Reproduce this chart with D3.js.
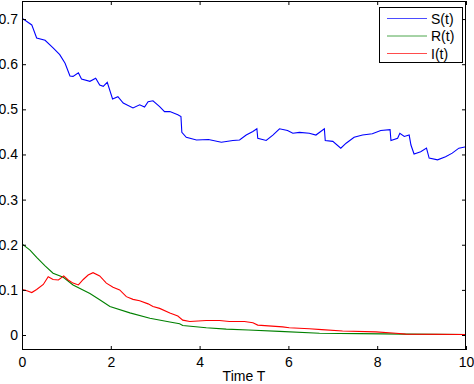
<!DOCTYPE html>
<html>
<head>
<meta charset="utf-8">
<script src="https://cdn.jsdelivr.net/npm/d3@7"></script>
<style>
  body { margin: 0; background: #fff; }
  svg { display: block; font-family: "Liberation Sans", Arial, sans-serif; }
</style>
</head>
<body>
<div id="chart"></div>
<script>
// values, as [time, value]
const sPoints = [[0,0.702],[0.22,0.687],[0.33,0.658],[0.52,0.653],[0.70,0.636],[0.85,0.621],[0.97,0.602],
  [1.08,0.574],[1.15,0.573],[1.27,0.581],[1.34,0.567],[1.53,0.562],[1.66,0.569],[1.75,0.554],[1.83,0.551],
  [1.92,0.560],[2.04,0.523],[2.16,0.528],[2.28,0.514],[2.50,0.503],[2.65,0.510],[2.76,0.505],[2.84,0.517],
  [2.95,0.519],[3.10,0.506],[3.21,0.495],[3.33,0.495],[3.51,0.488],[3.58,0.484],[3.60,0.449],[3.70,0.438],
  [3.93,0.432],[4.20,0.433],[4.49,0.427],[4.75,0.431],[4.90,0.432],[5.05,0.443],[5.20,0.451],[5.29,0.457],
  [5.31,0.436],[5.50,0.431],[5.65,0.443],[5.80,0.457],[5.98,0.453],[6.10,0.447],[6.25,0.449],[6.47,0.447],
  [6.62,0.443],[6.81,0.457],[6.83,0.431],[7.00,0.429],[7.18,0.414],[7.30,0.425],[7.48,0.438],[7.67,0.443],
  [7.89,0.446],[8.08,0.453],[8.29,0.455],[8.31,0.431],[8.46,0.436],[8.51,0.447],[8.61,0.440],[8.72,0.443],
  [8.76,0.421],[8.83,0.401],[8.98,0.406],[9.11,0.414],[9.17,0.392],[9.36,0.388],[9.54,0.395],[9.69,0.403],
  [9.84,0.414],[10,0.417]];
const rPoints = [[0,0.202],[0.18,0.188],[0.33,0.172],[0.52,0.153],[0.70,0.137],[0.93,0.128],[1.15,0.111],
  [1.53,0.092],[1.75,0.078],[1.98,0.063],[2.43,0.049],[2.88,0.037],[3.33,0.029],[3.55,0.025],[3.62,0.021],
  [4.15,0.016],[4.60,0.013],[5.10,0.011],[5.80,0.008],[6.70,0.004],[7.60,0.003],[8.64,0.002],[10,0.001]];
const iPoints = [[0,0.101],[0.11,0.098],[0.22,0.094],[0.33,0.101],[0.48,0.112],[0.59,0.129],[0.70,0.123],
  [0.82,0.122],[0.94,0.131],[1.04,0.122],[1.15,0.115],[1.27,0.111],[1.38,0.123],[1.49,0.133],[1.60,0.138],
  [1.75,0.131],[1.90,0.115],[2.05,0.106],[2.20,0.100],[2.35,0.085],[2.50,0.079],[2.65,0.076],[2.84,0.069],
  [2.95,0.063],[3.10,0.059],[3.33,0.049],[3.51,0.042],[3.62,0.033],[3.78,0.030],[4.15,0.032],[4.45,0.032],
  [4.67,0.030],[5.01,0.030],[5.20,0.027],[5.31,0.022],[5.87,0.018],[6.02,0.016],[6.47,0.014],[6.75,0.012],
  [7.22,0.009],[7.97,0.007],[8.42,0.004],[8.64,0.002],[10,0.001]];

const xTicks = [0, 2, 4, 6, 8, 10];
const yTicks = [0, 0.1, 0.2, 0.3, 0.4, 0.5, 0.6, 0.7];
const seriesNames = ["S(t)", "R(t)", "I(t)"];
const seriesColors = ["#0000ff", "#008000", "#ff0000"];

const width = 474, height = 384;
const plotL = 22, plotR = 466, plotT = 1, plotB = 350;

const svg = d3.select("#chart").append("svg")
    .attr("width", width)
    .attr("height", height);

const x = d3.scaleLinear().domain([0, 10]).range([plotL, plotR]);
const y = d3.scaleLinear().domain([-0.0332, 0.74]).range([plotB, plotT]);

const line = d3.line().x(d => x(d[0])).y(d => y(d[1]));

// data lines, clipped to the axes box
svg.append("clipPath").attr("id", "box")
  .append("rect").attr("x", plotL).attr("y", plotT).attr("width", plotR - plotL).attr("height", plotB - plotT);

const plot = svg.append("g").attr("clip-path", "url(#box)");
[sPoints, rPoints, iPoints].forEach((pts, i) => {
  plot.append("path")
    .datum(pts)
    .attr("fill", "none")
    .attr("stroke", seriesColors[i])
    .attr("stroke-width", 1.1)
    .attr("d", line);
});

// matlab style axes: ticks inward on all four sides
const tickLen = 4;
const axB = svg.append("g").attr("transform", `translate(0,${plotB})`)
  .call(d3.axisBottom(x).tickValues(xTicks).tickSize(-tickLen).tickPadding(7).tickFormat(d3.format("d")));
const axT = svg.append("g").attr("transform", `translate(0,${plotT})`)
  .call(d3.axisTop(x).tickValues(xTicks).tickSize(-tickLen).tickFormat(""));
const axL = svg.append("g").attr("transform", `translate(${plotL},0)`)
  .call(d3.axisLeft(y).tickValues(yTicks).tickSize(-tickLen).tickPadding(4).tickFormat(d => d === 0 ? "0" : d3.format(".1f")(d)));
const axR = svg.append("g").attr("transform", `translate(${plotR},0)`)
  .call(d3.axisRight(y).tickValues(yTicks).tickSize(-tickLen).tickFormat(""));

[axB, axT, axL, axR].forEach(a => {
  a.select(".domain").remove();
  a.selectAll("line").attr("stroke", "#000");
  a.selectAll("text").attr("fill", "#000").style("font-size", "14px").style("font-family", "Liberation Sans, Arial, sans-serif");
});

svg.append("rect")
  .attr("x", plotL + 0.5).attr("y", plotT + 0.5)
  .attr("width", plotR - plotL - 1).attr("height", plotB - plotT - 1)
  .attr("fill", "none").attr("stroke", "#000").attr("stroke-width", 1);

svg.append("text")
  .attr("x", (plotL + plotR) / 2).attr("y", 381)
  .attr("text-anchor", "middle")
  .style("font-size", "14px")
  .text("Time T");

// legend
const lg = svg.append("g");
lg.append("rect")
  .attr("x", 379.5).attr("y", 7.5).attr("width", 83).attr("height", 55)
  .attr("fill", "#fff").attr("stroke", "#000").attr("stroke-width", 1);
seriesNames.forEach((name, i) => {
  const yy = 18.5 + i * 17.5;
  lg.append("line")
    .attr("x1", 387).attr("x2", 427).attr("y1", yy).attr("y2", yy)
    .attr("stroke", seriesColors[i]).attr("stroke-width", 1).attr("stroke-opacity", 0.7);
  lg.append("text")
    .attr("x", 431).attr("y", yy)
    .attr("dy", "0.36em")
    .style("font-size", "14px")
    .text(name);
});
</script>
</body>
</html>
